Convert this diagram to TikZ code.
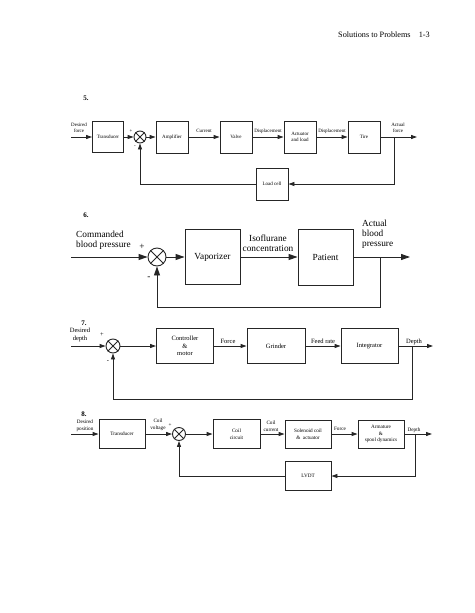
\documentclass[tikz,border=0pt]{standalone}
\usepackage{fontspec}
\setmainfont{Liberation Serif}
\usetikzlibrary{arrows.meta}
\begin{document}
\begin{tikzpicture}[x=1pt,y=-1pt,
  ln/.style={draw=black!85, line width=0.9pt},
  arr/.style={ln, -{Triangle[length=6pt,width=4pt]}},
  arrB/.style={ln, -{Triangle[length=9pt,width=6pt]}},
  blk/.style={draw=black!85, line width=0.9pt, inner sep=1pt, align=center},
  sumc/.style={circle, draw=black!85, line width=0.9pt, inner sep=0pt},
  lbl/.style={inner sep=0pt, align=center},
  num/.style={inner sep=0pt, font=\bfseries\fontsize{7}{8}\selectfont},
  fA/.style={font=\fontsize{5}{5.8}\selectfont},
  fB/.style={font=\fontsize{9.3}{10}\selectfont},
  fC/.style={font=\fontsize{6.5}{7.6}\selectfont},
  fD/.style={font=\fontsize{5.2}{6.6}\selectfont}
]
\useasboundingbox[fill=white] (0,0) rectangle (474,613);
\node[lbl, anchor=base east, font=\fontsize{8.2}{9}\selectfont] (hdr) at (430,37) {Solutions to Problems\quad 1-3};

% ---------- 5 ----------
\node[num] (n5) at (86,98) {5.};
\coordinate (in5) at (71,137);
\node[blk, fA, minimum width=31pt, minimum height=31pt] (t5) at (108,137) {Transducer};
\node[sumc, minimum size=12pt] (s5) at (140,137) {};
\draw[ln] (s5.45) -- (s5.225) (s5.135) -- (s5.315);
\node[blk, fA, minimum width=32pt, minimum height=32pt] (a5) at (172,137) {Amplifier};
\node[blk, fA, minimum width=32pt, minimum height=32pt] (v5) at (236,137) {Valve};
\node[blk, fA, minimum width=32pt, minimum height=32pt] (ac5) at (300,137) {Actuator\\and load};
\node[blk, fA, minimum width=32pt, minimum height=32pt] (ti5) at (364,137) {Tire};
\coordinate (out5) at (417,137);
\coordinate (b5) at (394,137);
\node[blk, fA, minimum width=32pt, minimum height=32pt] (l5) at (272,184) {Load cell};
\draw[arr] (in5) -- (t5);
\draw[arr] (t5) -- (s5);
\draw[arr] (s5) -- (a5);
\draw[arr] (a5) -- (v5);
\draw[arr] (v5) -- (ac5);
\draw[arr] (ac5) -- (ti5);
\draw[arr] (ti5) -- (out5);
\draw[arr] (b5) |- (l5);
\draw[arr] (l5) -| (s5);
\node[lbl, fA] (d5) at (79,128) {Desired\\force};
\node[lbl, fA] (p5) at (131,131) {+};
\node[lbl, fA] (m5) at (135,147) {-};
\node[lbl, fA] (c5) at (204,131) {Current};
\node[lbl, fA] (x5a) at (268,131) {Displacement};
\node[lbl, fA] (x5b) at (332,131) {Displacement};
\node[lbl, fA] (o5) at (398,128) {Actual\\force};

% ---------- 6 ----------
\node[num] (n6) at (86,215) {6.};
\coordinate (in6) at (71,257);
\node[sumc, minimum size=18pt] (s6) at (157,257) {};
\draw[ln] (s6.45) -- (s6.225) (s6.135) -- (s6.315);
\node[blk, fB, minimum width=55pt, minimum height=55pt] (vap6) at (212.5,257) {Vaporizer};
\node[blk, fB, minimum width=55pt, minimum height=56pt] (pat6) at (325.5,257) {Patient};
\coordinate (out6) at (410,257);
\coordinate (b6) at (380,257);
\coordinate (f6) at (380,307);
\draw[arrB] (in6) -- (s6);
\draw[arrB] (s6) -- (vap6);
\draw[arrB] (vap6) -- (pat6);
\draw[arrB] (pat6) -- (out6);
\draw[arrB] (b6) -- (f6) -| (s6);
\node[lbl, fB, align=left, anchor=north west] (d6) at (76,231) {Commanded\\blood pressure};
\node[lbl, fB] (p6) at (142,247) {+};
\node[lbl, fB] (m6) at (149,278) {-};
\node[lbl, fB] (c6) at (268,243) {Isoflurane\\concentration};
\node[lbl, fB, align=left, anchor=west] (o6) at (362,234) {Actual\\blood\\pressure};

% ---------- 7 ----------
\node[num] (n7) at (84,323) {7.};
\coordinate (in7) at (71,346);
\node[sumc, minimum size=14pt] (s7) at (113,346) {};
\draw[ln] (s7.45) -- (s7.225) (s7.135) -- (s7.315);
\node[blk, fC, minimum width=57pt, minimum height=35pt] (con7) at (185,346) {Controller\\\&\\motor};
\node[blk, fC, minimum width=58pt, minimum height=35pt] (gr7) at (276,346) {Grinder};
\node[blk, fC, minimum width=57pt, minimum height=35pt] (int7) at (369.5,346) {Integrator};
\coordinate (out7) at (433,346);
\coordinate (b7) at (412,346);
\coordinate (f7) at (412,399);
\draw[arr] (in7) -- (s7);
\draw[arr] (s7) -- (con7);
\draw[arr] (con7) -- (gr7);
\draw[arr] (gr7) -- (int7);
\draw[arr] (int7) -- (out7);
\draw[arr] (b7) -- (f7) -| (s7);
\node[lbl, fC] (d7) at (80,335) {Desired\\depth};
\node[lbl, fC] (p7) at (102,335) {+};
\node[lbl, fC] (m7) at (108,362) {-};
\node[lbl, fC] (c7) at (228,341) {Force};
\node[lbl, fC] (e7) at (323,341) {Feed rate};
\node[lbl, fC] (o7) at (414,342) {Depth};

% ---------- 8 ----------
\node[num] (n8) at (84,414) {8.};
\coordinate (in8) at (71,434);
\node[blk, fD, minimum width=46pt, minimum height=29pt] (t8) at (122,434) {Transducer};
\node[sumc, minimum size=13pt] (s8) at (179,434) {};
\draw[ln] (s8.45) -- (s8.225) (s8.135) -- (s8.315);
\node[blk, fD, minimum width=47pt, minimum height=29pt] (cc8) at (236.5,434) {Coil\\circuit};
\node[blk, fD, minimum width=46pt, minimum height=28pt] (sol8) at (308,434) {Solenoid coil\\\&\ \ actuator};
\node[blk, fD, minimum width=46pt, minimum height=28pt] (arm8) at (381,434) {Armature\\\&\\spool dynamics};
\coordinate (out8) at (432,434);
\coordinate (b8) at (415,434);
\node[blk, fD, minimum width=46pt, minimum height=29pt] (lv8) at (308,476) {LVDT};
\draw[arr] (in8) -- (t8);
\draw[arr] (t8) -- (s8);
\draw[arr] (s8) -- (cc8);
\draw[arr] (cc8) -- (sol8);
\draw[arr] (sol8) -- (arm8);
\draw[arr] (arm8) -- (out8);
\draw[arr] (b8) |- (lv8);
\draw[arr] (lv8) -| (s8);
\node[lbl, fD] (d8) at (85,426) {Desired\\position};
\node[lbl, fD] (v8) at (158,425) {Coil\\voltage};
\node[lbl, fD] (p8) at (170,425) {+};
\node[lbl, fD] (i8) at (271,426) {Coil\\current};
\node[lbl, fD] (f8) at (340,429) {Force};
\node[lbl, fD] (o8) at (414,430) {Depth};
\end{tikzpicture}
\end{document}
